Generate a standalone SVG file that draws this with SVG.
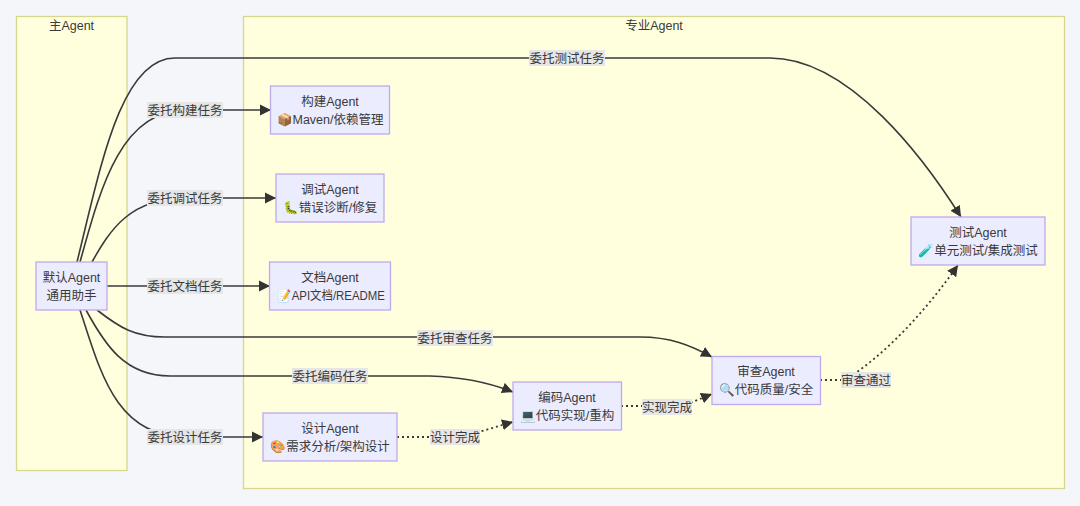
<svg xmlns="http://www.w3.org/2000/svg" width="1080" height="506" viewBox="0 0 1080 506">
<style>
text{font-family:"Liberation Sans","Noto Sans CJK SC",sans-serif;font-size:12.5px;fill:#3a3a3a;text-anchor:middle}
.c{fill:#ffffde;stroke:#d6d68e;stroke-width:1.3}
.n{fill:#ececff;stroke:#c0aaee;stroke-width:1.3}
.e{fill:none;stroke:#3a3a3a;stroke-width:1.6}
.d{stroke-width:1.8;stroke-dasharray:2 3}
.lb{fill:#e6e6e6}
</style>
<defs><marker id="a" markerUnits="userSpaceOnUse" markerWidth="12" markerHeight="12" refX="11" refY="6" orient="auto"><path d="M0 0.500L11 6L0 11.500z" fill="#333"/></marker></defs>
<rect width="1080" height="506" fill="#f5f6fa"/>
<g id="clusters">
<g id="main"><rect class="c" x="16.500" y="16.500" width="110.500" height="454"/><text x="71.500" y="30">主Agent</text></g>
<g id="special"><rect class="c" x="243.500" y="16.500" width="821" height="472"/><text x="654" y="30">专业Agent</text></g>
</g>
<g id="connectors">
<path class="e" marker-end="url(#a)" d="M77 262C100 170 120 58 175 58L770 58C850 58 925 160 961 217"/>
<path class="e" marker-end="url(#a)" d="M80 262C100 190 120 110 186 110L271 110"/>
<path class="e" marker-end="url(#a)" d="M92 262C110 230 130 198 186 198L276 198"/>
<path class="e" marker-end="url(#a)" d="M107 286L270 286"/>
<path class="e" marker-end="url(#a)" d="M97 310C120 328 135 337 165 337L640 337C670 337 690 345 712 357"/>
<path class="e" marker-end="url(#a)" d="M86 310C105 345 125 376 170 376L430 376C465 377 490 383 513 392"/>
<path class="e" marker-end="url(#a)" d="M80 310C100 370 115 437 186 437L263 437"/>
<path class="e d" marker-end="url(#a)" d="M397 437L440 437C470 437 490 428 513 422"/>
<path class="e d" marker-end="url(#a)" d="M621 406L667 406C685 406 695 401 712 394"/>
<path class="e d" marker-end="url(#a)" d="M820 380L845 380C885 355 925 312 958 265"/>
</g>
<g id="edge-labels">
<rect class="lb" x="529" y="50" width="76" height="16"/><text x="567" y="63">委托测试任务</text>
<rect class="lb" x="147" y="102" width="76" height="16"/><text x="185" y="115">委托构建任务</text>
<rect class="lb" x="147" y="190" width="76" height="16"/><text x="185" y="203">委托调试任务</text>
<rect class="lb" x="147" y="278" width="76" height="16"/><text x="185" y="291">委托文档任务</text>
<rect class="lb" x="417" y="330" width="76" height="16"/><text x="455" y="343">委托审查任务</text>
<rect class="lb" x="292" y="368" width="76" height="16"/><text x="330" y="381">委托编码任务</text>
<rect class="lb" x="147" y="429" width="76" height="16"/><text x="185" y="442">委托设计任务</text>
<rect class="lb" x="430" y="429" width="50" height="16"/><text x="455" y="442">设计完成</text>
<rect class="lb" x="642" y="399" width="50" height="16"/><text x="667" y="412">实现完成</text>
<rect class="lb" x="841" y="372" width="50" height="16"/><text x="866" y="385">审查通过</text>
</g>
<g id="n-default"><rect class="n" x="36" y="262" width="71" height="48"/><text x="71.500" y="282">默认Agent</text><text x="71.500" y="300">通用助手</text></g>
<g id="n-build"><rect class="n" x="270.500" y="86" width="119" height="48"/><text x="330" y="106">构建Agent</text><text x="330" y="124">📦Maven/依赖管理</text></g>
<g id="n-debug"><rect class="n" x="276" y="174" width="108" height="48"/><text x="330" y="194">调试Agent</text><text x="330" y="212">🐛错误诊断/修复</text></g>
<g id="n-docs"><rect class="n" x="269.500" y="262" width="121" height="48"/><text x="330" y="282">文档Agent</text><text x="331" y="300" textLength="108" lengthAdjust="spacingAndGlyphs">📝API文档/README</text></g>
<g id="n-design"><rect class="n" x="263" y="413" width="134" height="48"/><text x="330" y="433">设计Agent</text><text x="330" y="451">🎨需求分析/架构设计</text></g>
<g id="n-code"><rect class="n" x="513" y="382" width="108.500" height="48"/><text x="567" y="402">编码Agent</text><text x="567" y="420">💻代码实现/重构</text></g>
<g id="n-review"><rect class="n" x="712" y="356.500" width="108.500" height="48"/><text x="766" y="376">审查Agent</text><text x="766" y="394">🔍代码质量/安全</text></g>
<g id="n-test"><rect class="n" x="911" y="217" width="134" height="48"/><text x="978" y="237">测试Agent</text><text x="978" y="255">🧪单元测试/集成测试</text></g>
</svg>
